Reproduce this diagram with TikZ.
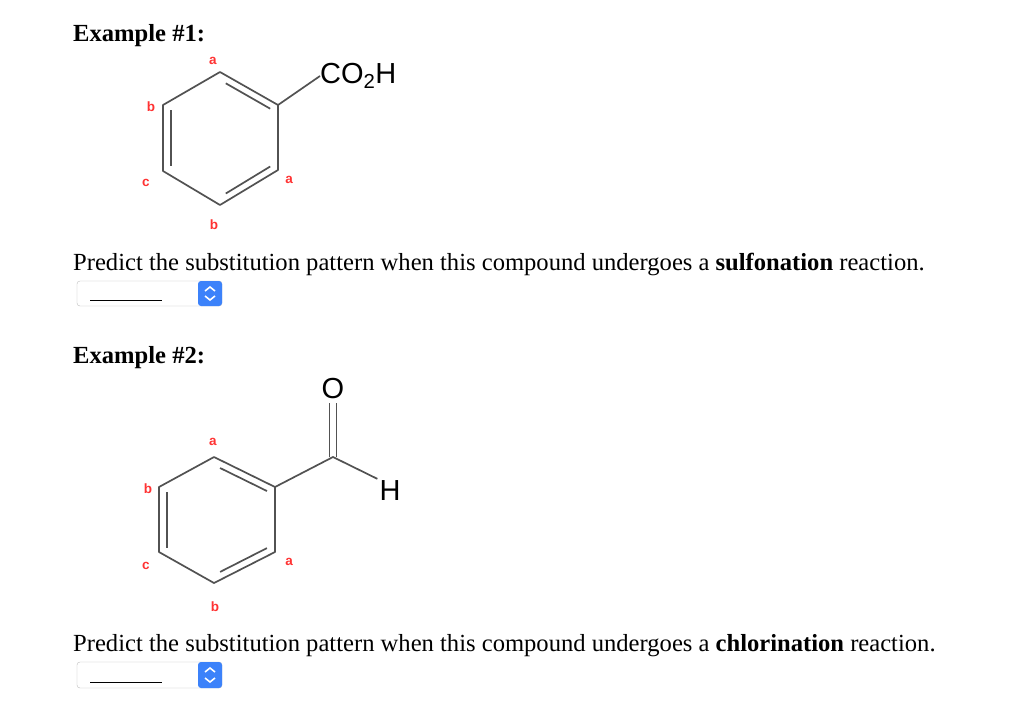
\documentclass[tikz,border=0pt]{standalone}
\usepackage{fontspec}
\usetikzlibrary{calc}
\setmainfont{Liberation Serif}
\newfontfamily\lsans{Liberation Sans}
\definecolor{btn}{RGB}{60,130,250}
\begin{document}
\begin{tikzpicture}[x=1pt,y=-1pt,
  bond/.style={draw=black!68,line width=1.7pt},
  lab/.style={text=red!80!white,font=\lsans\bfseries\fontsize{13.5}{13.5}\selectfont,inner sep=0},
  atom/.style={font=\lsans\fontsize{29}{29}\selectfont,inner sep=0},
  para/.style={anchor=base west,inner sep=0,font=\fontsize{24.6}{28}\selectfont},
  head/.style={anchor=base west,inner sep=0,font=\bfseries\fontsize{24.6}{28}\selectfont}]
\useasboundingbox (0,0) rectangle (1024,724);
\fill[white] (0,0) rectangle (1024,724);
% Example 1
\node[head] (h1) at (73,41) {Example \#1:};
\coordinate (t1) at (220,72); \coordinate (ur1) at (278,105); \coordinate (lr1) at (278,170);
\coordinate (bo1) at (220,205); \coordinate (ll1) at (163,171); \coordinate (ul1) at (163,105);
\draw[bond,line join=round] (t1)--(ur1)--(lr1)--(bo1)--(ll1)--(ul1)--cycle;
\draw[bond] ($(t1)!0.1!(ur1)+(0,8)$) -- ($(t1)!0.9!(ur1)+(-2,7)$);
\draw[bond] (171,110) -- (171,166);
\draw[bond] ($(bo1)!0.1!(lr1)+(0,-8)$) -- ($(bo1)!0.9!(lr1)+(-2,-7)$);
\node[atom,anchor=west] (co) at (320,76) {CO\textsubscript{2}H};
\draw[bond] (ur1) -- (co.west);
\node[lab] (a11) at (213,61) {a};
\node[lab] (b11) at (151,107) {b};
\node[lab] (c11) at (146,183) {c};
\node[lab] (a12) at (289,180) {a};
\node[lab] (b12) at (214,225) {b};
\node[para] (p1) at (73,270) {Predict the substitution pattern when this compound undergoes a \textbf{sulfonation} reaction.};
\draw[black!25,rounded corners=3pt,fill=white] (77,281) rectangle (222,306);
\fill[btn,rounded corners=3pt] (198,281) rectangle (222,306);
\draw[black,line width=0.9pt] (90,300) -- (162,300);
\draw[white,line width=1.6pt] (205,291)--(210,287)--(215,291) (205,296)--(210,300)--(215,296);
% Example 2
\node[head] (h2) at (73,363) {Example \#2:};
\coordinate (t2) at (214,457); \coordinate (ur2) at (275,487); \coordinate (lr2) at (275,552);
\coordinate (bo2) at (214,583); \coordinate (ll2) at (159,552); \coordinate (ul2) at (159,487);
\draw[bond,line join=round] (t2)--(ur2)--(lr2)--(bo2)--(ll2)--(ul2)--cycle;
\draw[bond] ($(t2)!0.1!(ur2)+(0,8)$) -- ($(t2)!0.9!(ur2)+(-2,7)$);
\draw[bond] (167,492) -- (167,548);
\draw[bond] ($(bo2)!0.1!(lr2)+(0,-8)$) -- ($(bo2)!0.9!(lr2)+(-2,-7)$);
\coordinate (cc) at (333,457);
\node[atom] (o) at (333,389) {O};
\node[atom] (hh) at (390,491) {H};
\draw[bond] (ur2) -- (cc) -- ($(hh.north west)+(-2,-2)$);
\draw[bond] (329.5,457) -- (329.5,403) (336.5,457) -- (336.5,403);
\node[lab] (a21) at (213,442) {a};
\node[lab] (b21) at (148,489) {b};
\node[lab] (c21) at (146,566) {c};
\node[lab] (a22) at (289,562) {a};
\node[lab] (b22) at (215,607) {b};
\node[para] (p2) at (73,651) {Predict the substitution pattern when this compound undergoes a \textbf{chlorination} reaction.};
\draw[black!25,rounded corners=3pt,fill=white] (77,662) rectangle (222,688);
\fill[btn,rounded corners=3pt] (198,662) rectangle (222,688);
\draw[black,line width=0.9pt] (90,682) -- (162,682);
\draw[white,line width=1.6pt] (205,672)--(210,668)--(215,672) (205,678)--(210,682)--(215,678);
\end{tikzpicture}
\end{document}
